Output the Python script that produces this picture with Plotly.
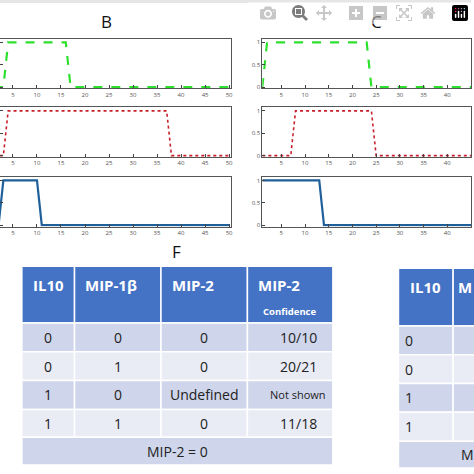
import plotly.graph_objects as go

W = 474
t_b = list(range(1, 51))
t_c = list(range(1, 51))

# panel B series
b_green = [0, 0, 0] + [1] * 13 + [0] * 34
b_red = [0, 0, 0] + [1] * 34 + [0] * 13
b_blue = [0, 0] + [1] * 8 + [0] * 40
# panel C series
c_green = [0] + [1] * 22 + [0] * 27
c_red = [0] * 7 + [1] * 17 + [0] * 26
c_blue = [1] * 13 + [0] * 37

# table F
f_header = ["IL10", "MIP-1β", "MIP-2", "MIP-2"]
f_rows = [["0", "0", "0", "10/10"],
          ["0", "1", "0", "20/21"],
          ["1", "0", "Undefined", "Not shown"],
          ["1", "1", "0", "11/18"]]
f_footer = "MIP-2 = 0"
g_col = ["0", "0", "1", "1"]


def px(x):
    return x / W


def py(y):
    return 1 - y / W


fig = go.Figure()

rows_y = [(39, 89), (108, 158), (178, 228)]
panels = [
    ("B", (0, 232), [2.3, 50.3], [(b_green, t_b), (b_red, t_b), (b_blue, t_b)], False),
    ("C", (264, 480), [1, 45], [(c_green, t_c), (c_red, t_c), (c_blue, t_c)], True),
]
styles = [dict(color="#2ee02e", width=2.2, dash="dash"),
          dict(color="#c8202a", width=1.6, dash="dot"),
          dict(color="#1f5f9a", width=2.2)]

n = 0
for name, (x0, x1), xr, series, yt in panels:
    for i, (vals, t) in enumerate(series):
        n += 1
        xa = "x" if n == 1 else f"x{n}"
        ya = "y" if n == 1 else f"y{n}"
        fig.add_trace(go.Scatter(x=t, y=vals, mode="lines", line=styles[i],
                                 xaxis=xa, yaxis=ya, showlegend=False))
        y0, y1 = rows_y[i]
        ax = dict(domain=[px(x0), min(px(x1), 1)], range=xr, tickvals=list(range(5, 55, 5)),
                  ticks="inside", ticklen=3, showline=True, linecolor="#555", mirror=True,
                  showgrid=False, zeroline=False, tickfont=dict(size=6, color="#555"),
                  anchor=ya)
        ay = dict(domain=[py(y1), py(y0)], range=[-0.03, 1.08], tickvals=[0, 0.5, 1],
                  ticktext=["0", "0.5", "1"], ticks="inside", ticklen=3,
                  showline=True, linecolor="#555", mirror=True, showgrid=False, zeroline=False,
                  showticklabels=yt, tickfont=dict(size=6, color="#555"), anchor=xa)
        fig.layout["xaxis" if n == 1 else f"xaxis{n}"] = ax
        fig.layout["yaxis" if n == 1 else f"yaxis{n}"] = ay

shapes = [dict(type="rect", xref="paper", yref="paper", x0=0, x1=1, y0=py(3), y1=1,
               fillcolor="#e6e6e6", line_width=0)]
ann = []

BLUE = "#4472c4"
DARK = "#cfd5ea"
LIGHT = "#e9ebf5"


def cell(x0, x1, y0, y1, fill):
    shapes.append(dict(type="rect", xref="paper", yref="paper", x0=px(x0), x1=px(x1),
                       y0=py(y1), y1=py(y0), fillcolor=fill, line=dict(color="white", width=1.5)))


def txt(s, x, y, size=14, color="#222", bold=False, xanchor="center"):
    if bold:
        s = "<b>" + s + "</b>"
    ann.append(dict(text=s, x=px(x), y=py(y), xref="paper", yref="paper", showarrow=False,
                    xanchor=xanchor, yanchor="middle",
                    font=dict(size=size, color=color, family="Open Sans")))


txt("B", 107, 22, size=17, color="#111")
txt("C", 379, 22, size=17, color="#111")
txt("F", 178, 253, size=17, color="#111")

cols = [22, 75, 162, 249, 335]
head = (268, 325)
row_edges = [325, 354, 383, 412, 440, 468]
for j in range(4):
    cell(cols[j], cols[j + 1], head[0], head[1], BLUE)
    if j == 0:
        txt(f_header[j], (cols[0] + cols[1]) / 2, 287, size=15, color="white", bold=True)
    else:
        txt(f_header[j], cols[j] + 9, 287, size=15, color="white", bold=True, xanchor="left")
txt("Confidence", (cols[3] + cols[4]) / 2, 313, size=9.5, color="white", bold=True)
for r, row in enumerate(f_rows):
    fill = DARK if r % 2 == 0 else LIGHT
    for j in range(4):
        cell(cols[j], cols[j + 1], row_edges[r], row_edges[r + 1], fill)
        s = 11 if row[j] == "Not shown" else 14
        txt(row[j], (cols[j] + cols[j + 1]) / 2 + (8 if j == 3 else 0),
            (row_edges[r] + row_edges[r + 1]) / 2, size=s)
cell(cols[0], cols[4], row_edges[4], row_edges[5], DARK)
txt(f_footer, (cols[0] + cols[4]) / 2, (row_edges[4] + row_edges[5]) / 2)

gcols = [401, 456, 480]
gedges = [270, 328, 357, 386, 415, 444, 471]
cell(gcols[0], gcols[1], gedges[0], gedges[1], BLUE)
cell(gcols[1], gcols[2], gedges[0], gedges[1], BLUE)
txt("IL10", (gcols[0] + gcols[1]) / 2, 289, size=15, color="white", bold=True)
txt("M", 459, 289, size=15, color="white", bold=True, xanchor="left")
for r, v in enumerate(g_col):
    fill = DARK if r % 2 == 0 else LIGHT
    cell(gcols[0], gcols[1], gedges[r + 1], gedges[r + 2], fill)
    cell(gcols[1], gcols[2], gedges[r + 1], gedges[r + 2], fill)
    txt(v, 412, (gedges[r + 1] + gedges[r + 2]) / 2)
cell(gcols[0], gcols[2], gedges[5], gedges[6], DARK)
txt("M", 462, (gedges[5] + gedges[6]) / 2, xanchor="left")

fig.update_layout(width=W, height=W, margin=dict(l=0, r=0, t=0, b=0),
                  paper_bgcolor="white", plot_bgcolor="white",
                  shapes=shapes, annotations=ann)
fig.write_html("out.html", post_script="document.body.style.margin='0';")
